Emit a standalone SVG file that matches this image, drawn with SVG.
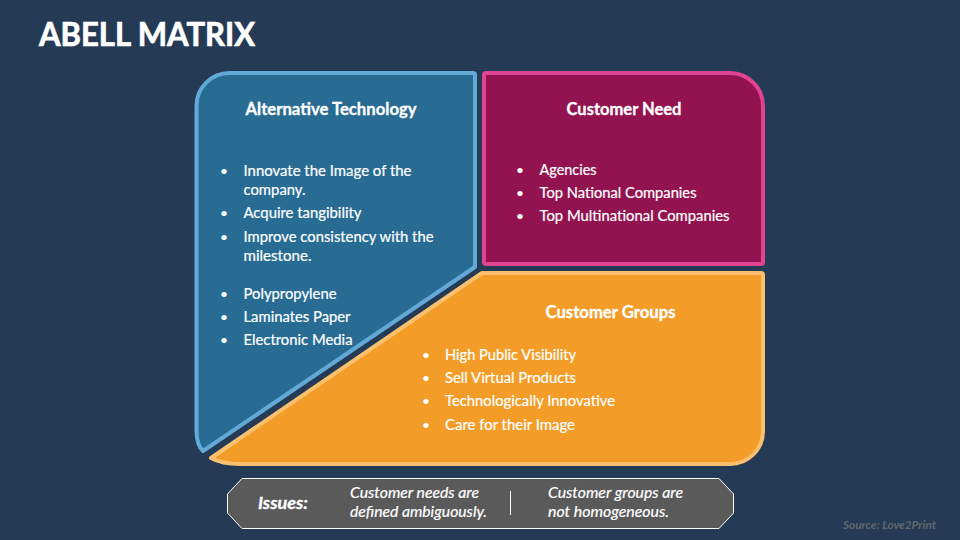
<svg xmlns="http://www.w3.org/2000/svg" width="960" height="540" viewBox="0 0 960 540">
<style>
text{font-family:"Lato","Carlito","Open Sans",sans-serif;fill:#fff}
.t{font-size:16.5px;font-weight:700;text-anchor:middle;stroke:#fff;stroke-width:.3}
.b text{font-size:14.6px;stroke:#fff;stroke-width:.2}
.b text.d{font-size:12px;stroke:none;font-weight:700}
.i{font-size:14.6px;font-style:italic;stroke:#fff;stroke-width:.2}
.s{stroke-width:4;stroke-linejoin:round}
</style>
<rect width="960" height="540" fill="#253b55"/>
<text x="39" y="46" font-size="32" font-weight="700" stroke="#fff" stroke-width=".7" textLength="216" lengthAdjust="spacingAndGlyphs">ABELL MATRIX</text>
<g id="alternative-technology">
<path class="s" d="M196.500 106A33 33 0 0 1 229.500 73H473Q475 73 475 75V267L203 451Q196.500 445 196.500 430Z" fill="#286c94" stroke="#62a9d6"/>
<text class="t" x="331" y="115" textLength="171" lengthAdjust="spacingAndGlyphs">Alternative Technology</text>
<g class="b">
<text class="d" x="220.500" y="175">•</text><text x="243.500" y="176" textLength="168" lengthAdjust="spacingAndGlyphs">Innovate the Image of the</text>
<text x="243.500" y="195" textLength="62" lengthAdjust="spacingAndGlyphs">company.</text>
<text class="d" x="220.500" y="217">•</text><text x="243.500" y="218" textLength="118" lengthAdjust="spacingAndGlyphs">Acquire tangibility</text>
<text class="d" x="220.500" y="241">•</text><text x="243.500" y="242" textLength="190" lengthAdjust="spacingAndGlyphs">Improve consistency with the</text>
<text x="243.500" y="261" textLength="68" lengthAdjust="spacingAndGlyphs">milestone.</text>
<text class="d" x="220.500" y="298">•</text><text x="243.500" y="299" textLength="93" lengthAdjust="spacingAndGlyphs">Polypropylene</text>
<text class="d" x="220.500" y="321">•</text><text x="243.500" y="322" textLength="107" lengthAdjust="spacingAndGlyphs">Laminates Paper</text>
<text class="d" x="220.500" y="344">•</text><text x="243.500" y="345" textLength="109" lengthAdjust="spacingAndGlyphs">Electronic Media</text>
</g>
</g>
<g id="customer-need">
<path class="s" d="M486 73H730A33 33 0 0 1 763 106V262Q763 264 761 264H486Q484 264 484 262V75Q484 73 486 73Z" fill="#931350" stroke="#e0438f"/>
<text class="t" x="624" y="115" textLength="115" lengthAdjust="spacingAndGlyphs">Customer Need</text>
<g class="b">
<text class="d" x="516.500" y="174">•</text><text x="539.500" y="175" textLength="57" lengthAdjust="spacingAndGlyphs">Agencies</text>
<text class="d" x="516.500" y="197">•</text><text x="539.500" y="198" textLength="157" lengthAdjust="spacingAndGlyphs">Top National Companies</text>
<text class="d" x="516.500" y="220">•</text><text x="539.500" y="221" textLength="190" lengthAdjust="spacingAndGlyphs">Top Multinational Companies</text>
</g>
</g>
<g id="customer-groups">
<path class="s" d="M482 273H761Q763 273 763 275V431A33 33 0 0 1 730 464H240Q222 464 211 458Z" fill="#f39c27" stroke="#fbc06e"/>
<text class="t" x="610.500" y="318" textLength="130" lengthAdjust="spacingAndGlyphs">Customer Groups</text>
<g class="b">
<text class="d" x="422.500" y="359">•</text><text x="445" y="360" textLength="131" lengthAdjust="spacingAndGlyphs">High Public Visibility</text>
<text class="d" x="422.500" y="382">•</text><text x="445" y="383" textLength="131" lengthAdjust="spacingAndGlyphs">Sell Virtual Products</text>
<text class="d" x="422.500" y="405">•</text><text x="445" y="406" textLength="170" lengthAdjust="spacingAndGlyphs">Technologically Innovative</text>
<text class="d" x="422.500" y="429">•</text><text x="445" y="430" textLength="130" lengthAdjust="spacingAndGlyphs">Care for their Image</text>
</g>
</g>
<g id="issues">
<path d="M242 478.500H719L733.500 494V513L719 528.500H242L227.500 513V494Z" fill="#5a5a5a" stroke="#fff" stroke-width="1"/>
<text x="258" y="509" font-size="17" font-weight="700" font-style="italic" stroke="#fff" stroke-width=".3" textLength="50" lengthAdjust="spacingAndGlyphs">Issues:</text>
<text class="i" x="350" y="498" textLength="129" lengthAdjust="spacingAndGlyphs">Customer needs are</text>
<text class="i" x="350" y="517" textLength="137" lengthAdjust="spacingAndGlyphs">defined ambiguously.</text>
<line x1="510.500" y1="491" x2="510.500" y2="515" stroke="#fff" stroke-width="1"/>
<text class="i" x="548" y="498" textLength="135" lengthAdjust="spacingAndGlyphs">Customer groups are</text>
<text class="i" x="548" y="517" textLength="121" lengthAdjust="spacingAndGlyphs">not homogeneous.</text>
</g>
<text x="843" y="529" font-size="10.500" font-weight="700" font-style="italic" style="fill:#60666f" textLength="93" lengthAdjust="spacingAndGlyphs">Source: Love2Print</text>
</svg>
